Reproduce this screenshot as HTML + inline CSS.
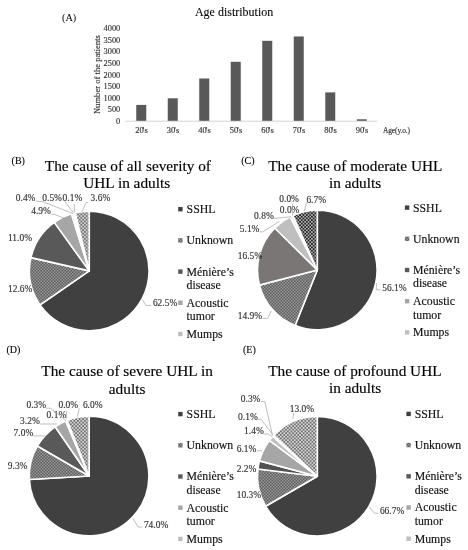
<!DOCTYPE html>
<html><head><meta charset="utf-8"><title>Age distribution and causes of UHL</title>
<style>html,body{margin:0;padding:0;background:#fff;} body{width:468px;height:550px;overflow:hidden;} svg{display:block;filter:blur(0.35px);}</style>
</head><body>
<svg width="468" height="550" viewBox="0 0 468 550" font-family="'Liberation Serif', serif"><defs>
<pattern id="chkD" width="3" height="3" patternUnits="userSpaceOnUse">
  <rect width="3" height="3" fill="#5e5e5e"/>
  <rect width="1.5" height="1.5" fill="#989898"/>
  <rect x="1.5" y="1.5" width="1.5" height="1.5" fill="#989898"/>
</pattern>
<pattern id="chkL" width="3.5" height="3.5" patternUnits="userSpaceOnUse">
  <rect width="3.5" height="3.5" fill="#d6d6d6"/>
  <rect width="1.75" height="1.75" fill="#707070"/>
  <rect x="1.75" y="1.75" width="1.75" height="1.75" fill="#707070"/>
</pattern>
<pattern id="chkDD" width="3.4" height="3.4" patternUnits="userSpaceOnUse">
  <rect width="3.4" height="3.4" fill="#b0b0b0"/>
  <rect width="1.7" height="1.7" fill="#222"/>
  <rect x="1.7" y="1.7" width="1.7" height="1.7" fill="#222"/>
</pattern>
</defs><text x="62.00" y="20.90" font-size="10.3" text-anchor="start" fill="#000" stroke="#000" stroke-width="0" >(A)</text>
<text x="234.10" y="15.50" font-size="12.0" text-anchor="middle" fill="#000" stroke="#000" stroke-width="0.08" >Age distribution</text>
<text x="120.30" y="124.00" font-size="8.4" text-anchor="end" fill="#333" stroke="#333" stroke-width="0.15" >0</text>
<text x="120.30" y="112.40" font-size="8.4" text-anchor="end" fill="#333" stroke="#333" stroke-width="0.15" >500</text>
<text x="120.30" y="100.80" font-size="8.4" text-anchor="end" fill="#333" stroke="#333" stroke-width="0.15" >1000</text>
<text x="120.30" y="89.20" font-size="8.4" text-anchor="end" fill="#333" stroke="#333" stroke-width="0.15" >1500</text>
<text x="120.30" y="77.60" font-size="8.4" text-anchor="end" fill="#333" stroke="#333" stroke-width="0.15" >2000</text>
<text x="120.30" y="66.00" font-size="8.4" text-anchor="end" fill="#333" stroke="#333" stroke-width="0.15" >2500</text>
<text x="120.30" y="54.40" font-size="8.4" text-anchor="end" fill="#333" stroke="#333" stroke-width="0.15" >3000</text>
<text x="120.30" y="42.80" font-size="8.4" text-anchor="end" fill="#333" stroke="#333" stroke-width="0.15" >3500</text>
<text x="120.30" y="31.20" font-size="8.4" text-anchor="end" fill="#333" stroke="#333" stroke-width="0.15" >4000</text>
<text transform="translate(99.8,74.6) rotate(-90)" font-size="8.6" text-anchor="middle" fill="#333" stroke="#333" stroke-width="0.15">Number of the patients</text>
<line x1="125.5" y1="121.2" x2="377.5" y2="121.2" stroke="#d0d0d0" stroke-width="0.9"/>
<rect x="136.25" y="104.91" width="10" height="15.89" fill="#595959"/>
<text x="141.55" y="133.10" font-size="8.5" text-anchor="middle" fill="#333" stroke="#333" stroke-width="0.15">20<tspan dx="-1.7">’</tspan><tspan dx="0.1">s</tspan></text>
<rect x="167.75" y="98.30" width="10" height="22.50" fill="#595959"/>
<text x="173.05" y="133.10" font-size="8.5" text-anchor="middle" fill="#333" stroke="#333" stroke-width="0.15">30<tspan dx="-1.7">’</tspan><tspan dx="0.1">s</tspan></text>
<rect x="199.25" y="78.51" width="10" height="42.29" fill="#595959"/>
<text x="204.55" y="133.10" font-size="8.5" text-anchor="middle" fill="#333" stroke="#333" stroke-width="0.15">40<tspan dx="-1.7">’</tspan><tspan dx="0.1">s</tspan></text>
<rect x="230.75" y="61.80" width="10" height="59.00" fill="#595959"/>
<text x="236.05" y="133.10" font-size="8.5" text-anchor="middle" fill="#333" stroke="#333" stroke-width="0.15">50<tspan dx="-1.7">’</tspan><tspan dx="0.1">s</tspan></text>
<rect x="262.25" y="40.81" width="10" height="79.99" fill="#595959"/>
<text x="267.55" y="133.10" font-size="8.5" text-anchor="middle" fill="#333" stroke="#333" stroke-width="0.15">60<tspan dx="-1.7">’</tspan><tspan dx="0.1">s</tspan></text>
<rect x="293.75" y="36.49" width="10" height="84.31" fill="#595959"/>
<text x="299.05" y="133.10" font-size="8.5" text-anchor="middle" fill="#333" stroke="#333" stroke-width="0.15">70<tspan dx="-1.7">’</tspan><tspan dx="0.1">s</tspan></text>
<rect x="325.25" y="92.40" width="10" height="28.40" fill="#595959"/>
<text x="330.55" y="133.10" font-size="8.5" text-anchor="middle" fill="#333" stroke="#333" stroke-width="0.15">80<tspan dx="-1.7">’</tspan><tspan dx="0.1">s</tspan></text>
<rect x="356.75" y="119.29" width="10" height="1.51" fill="#595959"/>
<text x="362.05" y="133.10" font-size="8.5" text-anchor="middle" fill="#333" stroke="#333" stroke-width="0.15">90<tspan dx="-1.7">’</tspan><tspan dx="0.1">s</tspan></text>
<text x="383.00" y="132.80" font-size="7.5" text-anchor="start" fill="#333" stroke="#333" stroke-width="0.15" letter-spacing="-0.15">Age(y.o.)</text>
<text x="11.60" y="163.60" font-size="10" text-anchor="start" fill="#000" stroke="#000" stroke-width="0.1" >(B)</text>
<text x="127.90" y="170.70" font-size="15.3" text-anchor="middle" fill="#000" stroke="#000" stroke-width="0.15" >The cause of all severity of</text>
<text x="126.70" y="188.30" font-size="15.3" text-anchor="middle" fill="#000" stroke="#000" stroke-width="0.15" >UHL in adults</text>
<path d="M89.25,270.90 L89.25,211.10 A59.8,59.8 0 1 1 40.05,304.90 Z" fill="#404040" stroke="#fff" stroke-width="1.6" stroke-linejoin="round"/>
<path d="M89.25,270.90 L40.05,304.90 A59.8,59.8 0 0 1 30.94,257.65 Z" fill="url(#chkD)" stroke="#fff" stroke-width="1.6" stroke-linejoin="round"/>
<path d="M89.25,270.90 L30.94,257.65 A59.8,59.8 0 0 1 54.29,222.38 Z" fill="#595959" stroke="#fff" stroke-width="1.6" stroke-linejoin="round"/>
<path d="M89.25,270.90 L54.29,222.38 A59.8,59.8 0 0 1 71.44,213.81 Z" fill="#a6a6a6" stroke="#fff" stroke-width="1.6" stroke-linejoin="round"/>
<path d="M89.25,270.90 L71.44,213.81 A59.8,59.8 0 0 1 72.95,213.36 Z" fill="#e8e8e8" stroke="#fff" stroke-width="1.6" stroke-linejoin="round"/>
<path d="M89.25,270.90 L72.95,213.36 A59.8,59.8 0 0 1 74.85,212.86 Z" fill="#f0f0f0" stroke="#fff" stroke-width="1.6" stroke-linejoin="round"/>
<path d="M89.25,270.90 L74.85,212.86 A59.8,59.8 0 0 1 75.23,212.77 Z" fill="#f0f0f0" stroke="#fff" stroke-width="1.6" stroke-linejoin="round"/>
<path d="M89.25,270.90 L75.23,212.77 A59.8,59.8 0 0 1 89.25,211.10 Z" fill="url(#chkL)" stroke="#fff" stroke-width="1.6" stroke-linejoin="round"/>
<rect x="178.20" y="207.00" width="4.4" height="4.4" fill="#404040"/>
<text x="186.60" y="213.10" font-size="11.8" text-anchor="start" fill="#111" stroke="#111" stroke-width="0.15" >SSHL</text>
<rect x="178.20" y="238.20" width="4.4" height="4.4" fill="url(#chkD)"/>
<text x="186.60" y="244.30" font-size="11.8" text-anchor="start" fill="#111" stroke="#111" stroke-width="0.15" >Unknown</text>
<rect x="178.20" y="269.40" width="4.4" height="4.4" fill="#595959"/>
<text x="186.60" y="275.50" font-size="11.8" text-anchor="start" fill="#111" stroke="#111" stroke-width="0.15" >Ménière’s</text>
<text x="186.60" y="288.90" font-size="11.8" text-anchor="start" fill="#111" stroke="#111" stroke-width="0.15" >disease</text>
<rect x="178.20" y="300.60" width="4.4" height="4.4" fill="#a6a6a6"/>
<text x="186.60" y="306.70" font-size="11.8" text-anchor="start" fill="#111" stroke="#111" stroke-width="0.15" >Acoustic</text>
<text x="186.60" y="320.10" font-size="11.8" text-anchor="start" fill="#111" stroke="#111" stroke-width="0.15" >tumor</text>
<rect x="178.20" y="331.80" width="4.4" height="4.4" fill="#bdbdbd"/>
<text x="186.60" y="337.90" font-size="11.8" text-anchor="start" fill="#111" stroke="#111" stroke-width="0.15" >Mumps</text>
<text x="15.80" y="201.45" font-size="9.45" text-anchor="start" fill="#333" stroke="#333" stroke-width="0.15" >0.4%</text>
<text x="42.30" y="201.45" font-size="9.45" text-anchor="start" fill="#333" stroke="#333" stroke-width="0.15" >0.5%</text>
<text x="62.60" y="201.45" font-size="9.45" text-anchor="start" fill="#333" stroke="#333" stroke-width="0.15" >0.1%</text>
<text x="90.60" y="201.45" font-size="9.45" text-anchor="start" fill="#333" stroke="#333" stroke-width="0.15" >3.6%</text>
<text x="31.20" y="214.35" font-size="9.45" text-anchor="start" fill="#333" stroke="#333" stroke-width="0.15" >4.9%</text>
<text x="8.00" y="241.25" font-size="9.45" text-anchor="start" fill="#333" stroke="#333" stroke-width="0.15" >11.0%</text>
<text x="8.00" y="292.25" font-size="9.45" text-anchor="start" fill="#333" stroke="#333" stroke-width="0.15" >12.6%</text>
<text x="152.90" y="306.35" font-size="9.45" text-anchor="start" fill="#333" stroke="#333" stroke-width="0.15" >62.5%</text>
<polyline points="35.6,201.2 42.3,201.5 73.3,213.6" fill="none" stroke="#a8a8a8" stroke-width="0.75"/>
<polyline points="64.8,201.6 73.4,212.7" fill="none" stroke="#a8a8a8" stroke-width="0.75"/>
<polyline points="74.4,204.2 74.4,212.5" fill="none" stroke="#a8a8a8" stroke-width="0.75"/>
<polyline points="88.1,202.5 86.1,202.5 82.0,211.4" fill="none" stroke="#a8a8a8" stroke-width="0.75"/>
<polyline points="51.4,214.2 54.6,214.4 65.5,218.8" fill="none" stroke="#a8a8a8" stroke-width="0.75"/>
<polyline points="142.2,299.6 146.0,305.4 151.2,305.4" fill="none" stroke="#a8a8a8" stroke-width="0.75"/>
<text x="241.20" y="163.60" font-size="10" text-anchor="start" fill="#000" stroke="#000" stroke-width="0.1" >(C)</text>
<text x="355.30" y="170.50" font-size="15.3" text-anchor="middle" fill="#000" stroke="#000" stroke-width="0.15" >The cause of moderate UHL</text>
<text x="355.10" y="188.10" font-size="15.3" text-anchor="middle" fill="#000" stroke="#000" stroke-width="0.15" >in adults</text>
<path d="M317.30,270.00 L317.30,210.20 A59.8,59.8 0 1 1 295.13,325.54 Z" fill="#404040" stroke="#fff" stroke-width="1.6" stroke-linejoin="round"/>
<path d="M317.30,270.00 L295.13,325.54 A59.8,59.8 0 0 1 259.45,285.13 Z" fill="url(#chkD)" stroke="#fff" stroke-width="1.6" stroke-linejoin="round"/>
<path d="M317.30,270.00 L259.45,285.13 A59.8,59.8 0 0 1 274.78,227.95 Z" fill="#7b7676" stroke="#fff" stroke-width="1.6" stroke-linejoin="round"/>
<path d="M317.30,270.00 L274.78,227.95 A59.8,59.8 0 0 1 290.18,216.71 Z" fill="#bfbfbf" stroke="#fff" stroke-width="1.6" stroke-linejoin="round"/>
<path d="M317.30,270.00 L290.18,216.71 A59.8,59.8 0 0 1 292.89,215.41 Z" fill="#ececec" stroke="#fff" stroke-width="1.6" stroke-linejoin="round"/>
<path d="M317.30,270.00 L292.89,215.41 A59.8,59.8 0 0 1 317.30,210.20 Z" fill="url(#chkDD)" stroke="#fff" stroke-width="1.6" stroke-linejoin="round"/>
<rect x="404.90" y="205.40" width="4.4" height="4.4" fill="#404040"/>
<text x="413.00" y="211.50" font-size="11.8" text-anchor="start" fill="#111" stroke="#111" stroke-width="0.15" >SSHL</text>
<rect x="404.90" y="236.60" width="4.4" height="4.4" fill="url(#chkD)"/>
<text x="413.00" y="242.70" font-size="11.8" text-anchor="start" fill="#111" stroke="#111" stroke-width="0.15" >Unknown</text>
<rect x="404.90" y="267.80" width="4.4" height="4.4" fill="#595959"/>
<text x="413.00" y="273.90" font-size="11.8" text-anchor="start" fill="#111" stroke="#111" stroke-width="0.15" >Ménière’s</text>
<text x="413.00" y="287.30" font-size="11.8" text-anchor="start" fill="#111" stroke="#111" stroke-width="0.15" >disease</text>
<rect x="404.90" y="299.00" width="4.4" height="4.4" fill="#a6a6a6"/>
<text x="413.00" y="305.10" font-size="11.8" text-anchor="start" fill="#111" stroke="#111" stroke-width="0.15" >Acoustic</text>
<text x="413.00" y="318.50" font-size="11.8" text-anchor="start" fill="#111" stroke="#111" stroke-width="0.15" >tumor</text>
<rect x="404.90" y="330.20" width="4.4" height="4.4" fill="#bdbdbd"/>
<text x="413.00" y="336.30" font-size="11.8" text-anchor="start" fill="#111" stroke="#111" stroke-width="0.15" >Mumps</text>
<text x="279.30" y="202.15" font-size="9.45" text-anchor="start" fill="#333" stroke="#333" stroke-width="0.15" >0.0%</text>
<text x="279.80" y="213.45" font-size="9.45" text-anchor="start" fill="#333" stroke="#333" stroke-width="0.15" >0.0%</text>
<text x="306.40" y="203.15" font-size="9.45" text-anchor="start" fill="#333" stroke="#333" stroke-width="0.15" >6.7%</text>
<text x="254.10" y="219.15" font-size="9.45" text-anchor="start" fill="#333" stroke="#333" stroke-width="0.15" >0.8%</text>
<text x="239.80" y="232.05" font-size="9.45" text-anchor="start" fill="#333" stroke="#333" stroke-width="0.15" >5.1%</text>
<text x="237.80" y="258.55" font-size="9.45" text-anchor="start" fill="#333" stroke="#333" stroke-width="0.15" >16.5%</text>
<text x="237.80" y="319.45" font-size="9.45" text-anchor="start" fill="#333" stroke="#333" stroke-width="0.15" >14.9%</text>
<text x="382.20" y="290.85" font-size="9.45" text-anchor="start" fill="#333" stroke="#333" stroke-width="0.15" >56.1%</text>
<circle cx="260.9" cy="256.6" r="0.9" fill="#333"/>
<polyline points="273.7,218.5 291.0,216.8" fill="none" stroke="#a8a8a8" stroke-width="0.75"/>
<polyline points="259.6,231.9 262.8,231.9 279.5,221.3" fill="none" stroke="#a8a8a8" stroke-width="0.75"/>
<polyline points="292.3,203.5 292.3,215.5" fill="none" stroke="#a8a8a8" stroke-width="0.75"/>
<polyline points="306.4,202.5 304.5,211.0" fill="none" stroke="#a8a8a8" stroke-width="0.75"/>
<polyline points="262.5,318.4 267.6,318.4 271.3,310.9" fill="none" stroke="#a8a8a8" stroke-width="0.75"/>
<polyline points="376.4,282.8 376.4,289.9 380.5,289.9" fill="none" stroke="#a8a8a8" stroke-width="0.75"/>
<text x="6.50" y="353.20" font-size="10" text-anchor="start" fill="#000" stroke="#000" stroke-width="0.1" >(D)</text>
<text x="127.10" y="376.30" font-size="15.3" text-anchor="middle" fill="#000" stroke="#000" stroke-width="0.15" >The cause of severe UHL in</text>
<text x="127.10" y="393.90" font-size="15.3" text-anchor="middle" fill="#000" stroke="#000" stroke-width="0.15" >adults</text>
<path d="M89.10,476.00 L89.10,416.20 A59.8,59.8 0 1 1 29.40,479.48 Z" fill="#404040" stroke="#fff" stroke-width="1.6" stroke-linejoin="round"/>
<path d="M89.10,476.00 L29.40,479.48 A59.8,59.8 0 0 1 37.41,445.94 Z" fill="url(#chkD)" stroke="#fff" stroke-width="1.6" stroke-linejoin="round"/>
<path d="M89.10,476.00 L37.41,445.94 A59.8,59.8 0 0 1 55.15,426.77 Z" fill="#595959" stroke="#fff" stroke-width="1.6" stroke-linejoin="round"/>
<path d="M89.10,476.00 L55.15,426.77 A59.8,59.8 0 0 1 65.67,420.98 Z" fill="#a6a6a6" stroke="#fff" stroke-width="1.6" stroke-linejoin="round"/>
<path d="M89.10,476.00 L65.67,420.98 A59.8,59.8 0 0 1 66.72,420.55 Z" fill="#e8e8e8" stroke="#fff" stroke-width="1.6" stroke-linejoin="round"/>
<path d="M89.10,476.00 L66.72,420.55 A59.8,59.8 0 0 1 67.07,420.41 Z" fill="#f0f0f0" stroke="#fff" stroke-width="1.6" stroke-linejoin="round"/>
<path d="M89.10,476.00 L67.07,420.41 A59.8,59.8 0 0 1 89.10,416.20 Z" fill="url(#chkL)" stroke="#fff" stroke-width="1.6" stroke-linejoin="round"/>
<rect x="178.20" y="411.90" width="4.4" height="4.4" fill="#404040"/>
<text x="186.60" y="418.00" font-size="11.8" text-anchor="start" fill="#111" stroke="#111" stroke-width="0.15" >SSHL</text>
<rect x="178.20" y="443.10" width="4.4" height="4.4" fill="url(#chkD)"/>
<text x="186.60" y="449.20" font-size="11.8" text-anchor="start" fill="#111" stroke="#111" stroke-width="0.15" >Unknown</text>
<rect x="178.20" y="474.30" width="4.4" height="4.4" fill="#595959"/>
<text x="186.60" y="480.40" font-size="11.8" text-anchor="start" fill="#111" stroke="#111" stroke-width="0.15" >Ménière’s</text>
<text x="186.60" y="493.80" font-size="11.8" text-anchor="start" fill="#111" stroke="#111" stroke-width="0.15" >disease</text>
<rect x="178.20" y="505.50" width="4.4" height="4.4" fill="#a6a6a6"/>
<text x="186.60" y="511.60" font-size="11.8" text-anchor="start" fill="#111" stroke="#111" stroke-width="0.15" >Acoustic</text>
<text x="186.60" y="525.00" font-size="11.8" text-anchor="start" fill="#111" stroke="#111" stroke-width="0.15" >tumor</text>
<rect x="178.20" y="536.70" width="4.4" height="4.4" fill="#bdbdbd"/>
<text x="186.60" y="542.80" font-size="11.8" text-anchor="start" fill="#111" stroke="#111" stroke-width="0.15" >Mumps</text>
<text x="26.50" y="408.15" font-size="9.45" text-anchor="start" fill="#333" stroke="#333" stroke-width="0.15" >0.3%</text>
<text x="58.50" y="408.15" font-size="9.45" text-anchor="start" fill="#333" stroke="#333" stroke-width="0.15" >0.0%</text>
<text x="82.90" y="408.15" font-size="9.45" text-anchor="start" fill="#333" stroke="#333" stroke-width="0.15" >6.0%</text>
<text x="46.60" y="418.35" font-size="9.45" text-anchor="start" fill="#333" stroke="#333" stroke-width="0.15" >0.1%</text>
<text x="20.10" y="424.15" font-size="9.45" text-anchor="start" fill="#333" stroke="#333" stroke-width="0.15" >3.2%</text>
<text x="13.60" y="436.35" font-size="9.45" text-anchor="start" fill="#333" stroke="#333" stroke-width="0.15" >7.0%</text>
<text x="7.80" y="468.85" font-size="9.45" text-anchor="start" fill="#333" stroke="#333" stroke-width="0.15" >9.3%</text>
<text x="143.90" y="527.65" font-size="9.45" text-anchor="start" fill="#333" stroke="#333" stroke-width="0.15" >74.0%</text>
<polyline points="46.3,408.2 50.3,408.2 66.0,420.6" fill="none" stroke="#a8a8a8" stroke-width="0.75"/>
<polyline points="39.9,424.0 57.0,424.0" fill="none" stroke="#a8a8a8" stroke-width="0.75"/>
<polyline points="33.3,435.9 44.8,435.9" fill="none" stroke="#a8a8a8" stroke-width="0.75"/>
<polyline points="66.4,411.0 66.4,418.5" fill="none" stroke="#a8a8a8" stroke-width="0.75"/>
<polyline points="79.2,408.3 77.5,416.8" fill="none" stroke="#a8a8a8" stroke-width="0.75"/>
<polyline points="132.8,518.0 138.0,527.0 141.8,527.0" fill="none" stroke="#a8a8a8" stroke-width="0.75"/>
<text x="243.00" y="352.80" font-size="10" text-anchor="start" fill="#000" stroke="#000" stroke-width="0.1" >(E)</text>
<text x="354.90" y="375.80" font-size="15.3" text-anchor="middle" fill="#000" stroke="#000" stroke-width="0.15" >The cause of profound UHL</text>
<text x="355.10" y="393.40" font-size="15.3" text-anchor="middle" fill="#000" stroke="#000" stroke-width="0.15" >in adults</text>
<path d="M317.30,476.20 L317.30,416.40 A59.8,59.8 0 1 1 265.57,506.21 Z" fill="#404040" stroke="#fff" stroke-width="1.6" stroke-linejoin="round"/>
<path d="M317.30,476.20 L265.57,506.21 A59.8,59.8 0 0 1 257.94,468.99 Z" fill="url(#chkD)" stroke="#fff" stroke-width="1.6" stroke-linejoin="round"/>
<path d="M317.30,476.20 L257.94,468.99 A59.8,59.8 0 0 1 259.49,460.89 Z" fill="#525252" stroke="#fff" stroke-width="1.6" stroke-linejoin="round"/>
<path d="M317.30,476.20 L259.49,460.89 A59.8,59.8 0 0 1 269.40,440.40 Z" fill="#a6a6a6" stroke="#fff" stroke-width="1.6" stroke-linejoin="round"/>
<path d="M317.30,476.20 L269.40,440.40 A59.8,59.8 0 0 1 272.73,436.33 Z" fill="#bfbfbf" stroke="#fff" stroke-width="1.6" stroke-linejoin="round"/>
<path d="M317.30,476.20 L272.73,436.33 A59.8,59.8 0 0 1 272.98,436.06 Z" fill="#f0f0f0" stroke="#fff" stroke-width="1.6" stroke-linejoin="round"/>
<path d="M317.30,476.20 L272.98,436.06 A59.8,59.8 0 0 1 273.74,435.23 Z" fill="#e8e8e8" stroke="#fff" stroke-width="1.6" stroke-linejoin="round"/>
<path d="M317.30,476.20 L273.74,435.23 A59.8,59.8 0 0 1 317.30,416.40 Z" fill="url(#chkL)" stroke="#fff" stroke-width="1.6" stroke-linejoin="round"/>
<rect x="406.40" y="411.70" width="4.4" height="4.4" fill="#404040"/>
<text x="414.70" y="417.80" font-size="11.8" text-anchor="start" fill="#111" stroke="#111" stroke-width="0.15" >SSHL</text>
<rect x="406.40" y="442.90" width="4.4" height="4.4" fill="url(#chkD)"/>
<text x="414.70" y="449.00" font-size="11.8" text-anchor="start" fill="#111" stroke="#111" stroke-width="0.15" >Unknown</text>
<rect x="406.40" y="474.10" width="4.4" height="4.4" fill="#595959"/>
<text x="414.70" y="480.20" font-size="11.8" text-anchor="start" fill="#111" stroke="#111" stroke-width="0.15" >Ménière’s</text>
<text x="414.70" y="493.60" font-size="11.8" text-anchor="start" fill="#111" stroke="#111" stroke-width="0.15" >disease</text>
<rect x="406.40" y="505.30" width="4.4" height="4.4" fill="#a6a6a6"/>
<text x="414.70" y="511.40" font-size="11.8" text-anchor="start" fill="#111" stroke="#111" stroke-width="0.15" >Acoustic</text>
<text x="414.70" y="524.80" font-size="11.8" text-anchor="start" fill="#111" stroke="#111" stroke-width="0.15" >tumor</text>
<rect x="406.40" y="536.50" width="4.4" height="4.4" fill="#bdbdbd"/>
<text x="414.70" y="542.60" font-size="11.8" text-anchor="start" fill="#111" stroke="#111" stroke-width="0.15" >Mumps</text>
<text x="240.80" y="402.15" font-size="9.45" text-anchor="start" fill="#333" stroke="#333" stroke-width="0.15" >0.3%</text>
<text x="289.80" y="412.15" font-size="9.45" text-anchor="start" fill="#333" stroke="#333" stroke-width="0.15" >13.0%</text>
<text x="238.10" y="419.85" font-size="9.45" text-anchor="start" fill="#333" stroke="#333" stroke-width="0.15" >0.1%</text>
<text x="244.10" y="433.75" font-size="9.45" text-anchor="start" fill="#333" stroke="#333" stroke-width="0.15" >1.4%</text>
<text x="236.70" y="451.95" font-size="9.45" text-anchor="start" fill="#333" stroke="#333" stroke-width="0.15" >6.1%</text>
<text x="236.70" y="472.05" font-size="9.45" text-anchor="start" fill="#333" stroke="#333" stroke-width="0.15" >2.2%</text>
<text x="236.70" y="497.85" font-size="9.45" text-anchor="start" fill="#333" stroke="#333" stroke-width="0.15" >10.3%</text>
<text x="379.90" y="514.05" font-size="9.45" text-anchor="start" fill="#333" stroke="#333" stroke-width="0.15" >66.7%</text>
<polyline points="261.0,401.4 264.8,401.8 272.5,435.6" fill="none" stroke="#a8a8a8" stroke-width="0.75"/>
<polyline points="257.8,419.3 261.0,419.3 272.5,434.3" fill="none" stroke="#a8a8a8" stroke-width="0.75"/>
<polyline points="263.6,434.0 268.0,434.0 271.9,436.2" fill="none" stroke="#a8a8a8" stroke-width="0.75"/>
<polyline points="293.8,412.8 292.8,418.8" fill="none" stroke="#a8a8a8" stroke-width="0.75"/>
<polyline points="256.9,450.9 262.0,450.6" fill="none" stroke="#a8a8a8" stroke-width="0.75"/>
<polyline points="369.2,506.7 374.4,513.2 378.2,513.2" fill="none" stroke="#a8a8a8" stroke-width="0.75"/></svg>
</body></html>
